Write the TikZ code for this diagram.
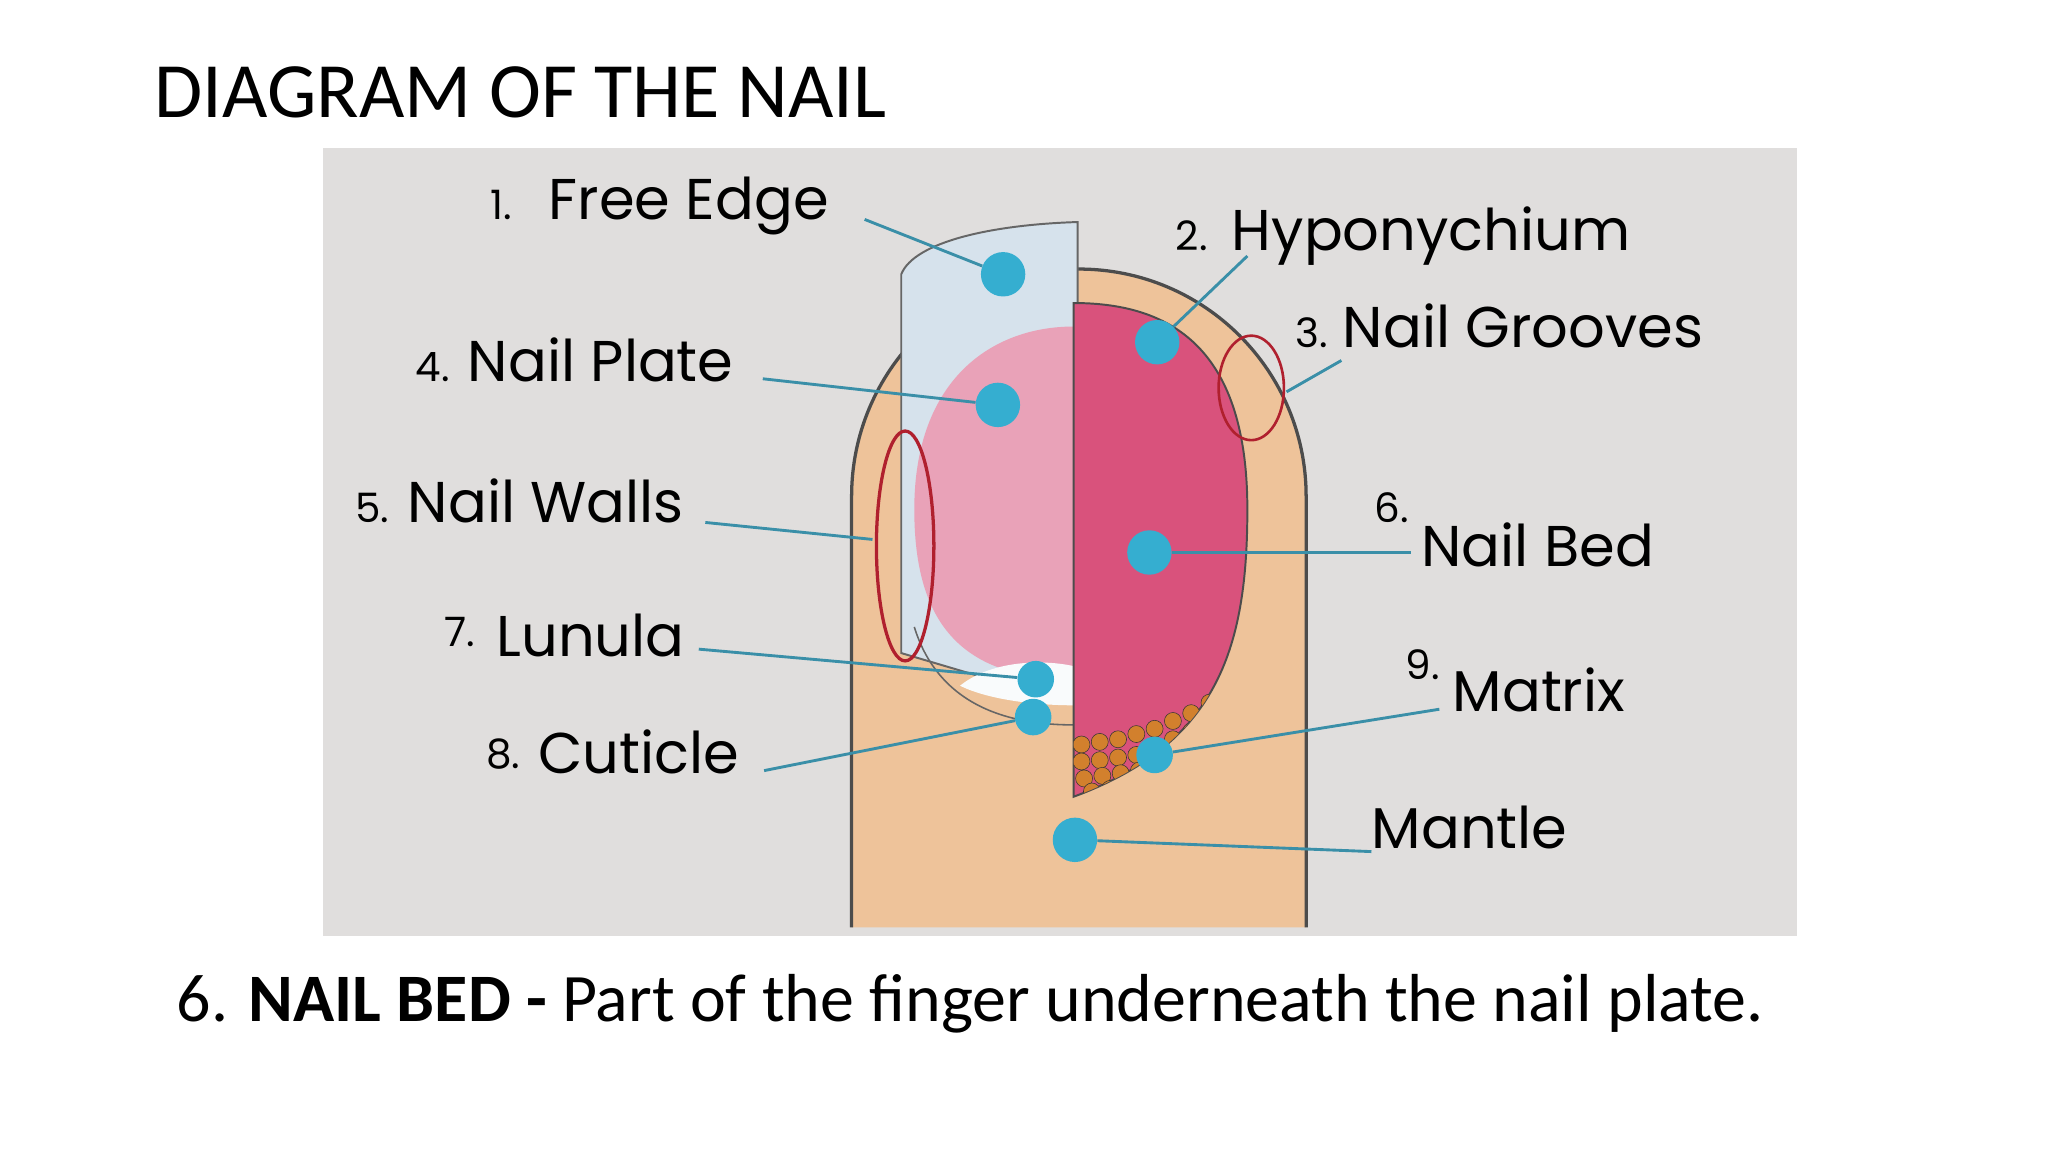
\documentclass[tikz,border=0pt]{standalone}
\usepackage{fontspec}
\setmainfont{Carlito}
\newfontfamily\lbl{Poppins}
\newfontfamily\ttl{Carlito}
\begin{document}
\begin{tikzpicture}[x=1pt,y=-1pt,
 lab/.style={font=\lbl\fontsize{44}{46}\selectfont,inner sep=0pt,anchor=base west},
 num/.style={font=\lbl\fontsize{31}{33}\selectfont,inner sep=0pt,anchor=base west},
 dot/.style={circle,fill=dotblue,minimum size=34pt,inner sep=0pt},
 ln/.style={draw=lineblue,line width=2.2pt}]
\definecolor{panel}{HTML}{E0DEDD}
\definecolor{peach}{HTML}{EEC39A}
\definecolor{darkpink}{HTML}{D9527C}
\definecolor{lightpink}{HTML}{E9A2B8}
\definecolor{freeblue}{HTML}{D6E2EC}
\definecolor{dotblue}{HTML}{35AED0}
\definecolor{lineblue}{HTML}{3A8FA8}
\definecolor{wallred}{HTML}{B0202E}
\useasboundingbox (0,0) rectangle (1568,882);
\fill[white] (0,0) rectangle (1568,882);
\node[font=\ttl\fontsize{60}{62}\selectfont,anchor=base west,inner sep=0pt] (title) at (118,90) {DIAGRAM OF THE NAIL};
\fill[panel] (247,113) rectangle (1376,717);
% finger
\draw[fill=peach,line width=2.5pt,draw=black!70] (652,710) -- (652,380) arc[start angle=180,end angle=360,radius=174] -- (1000,710);
% free edge
\draw[fill=freeblue,draw=black!60,line width=1.5pt] (690,500) -- (690,210) .. controls (700,185) and (760,172) .. (825,170) -- (825,540) -- cycle;
% left half light pink
\fill[lightpink] (822,250) .. controls (760,250) and (700,290) .. (700,390) .. controls (700,470) and (730,520) .. (822,520) -- cycle;
% lunula
\fill[white!85!freeblue] (735,525) .. controls (760,505) and (800,505) .. (822,510) -- (822,540) .. controls (790,540) and (755,535) .. (735,525) -- cycle;
\draw[black!60,line width=1.2pt] (700,480) .. controls (720,545) and (780,555) .. (822,555);
% right half dark pink
\draw[fill=darkpink,draw=black!70,line width=1.5pt] (822,232) .. controls (900,232) and (955,270) .. (955,390) .. controls (955,500) and (930,570) .. (822,610) -- cycle;
% matrix
\begin{scope}
\clip (822,232) .. controls (900,232) and (955,270) .. (955,390) .. controls (955,500) and (930,570) .. (822,610) -- cycle;
\foreach \x/\y in {828/570,842/568,856/566,870/562,884/558,898/552,912/546,926/538,936/528,
  828/583,842/582,856/580,870/578,884/572,898/566,912/560,926/550,936/540,
  830/596,844/594,858/592,872/590,886/588,900/582,914/574,928/562,836/606,850/604,864/602,878/598}
  \draw[fill=brown!70!orange,draw=black!80] (\x,\y) circle (6.5);
\end{scope}
% red ellipses
\draw[wallred,line width=2.5pt] (693,418) ellipse (22 and 88);
\draw[wallred,line width=2pt] (958,297) ellipse (25 and 40);
% dots
\node[dot] (d1) at (768,210) {};
\node[dot] (d4) at (764,310) {};
\node[dot] (d2) at (886,262) {};
\node[dot] (d6) at (880,423) {};
\node[dot,minimum size=28pt] (d7) at (793,520) {};
\node[dot,minimum size=28pt] (d8) at (791,549) {};
\node[dot,minimum size=28pt] (d9) at (884,578) {};
\node[dot] (dm) at (823,643) {};
% labels
\node[num] (n1) at (375,168) {1.};
\node[lab] (l1) at (420,168) {Free Edge};
\node[num] (n2) at (900,192) {2.};
\node[lab] (l2) at (943,192) {Hyponychium};
\node[num] (n3) at (992,266) {3.};
\node[lab] (l3) at (1028,266) {Nail Grooves};
\node[num] (n4) at (318,292) {4.};
\node[lab] (l4) at (358,292) {Nail Plate};
\node[num] (n5) at (272,400) {5.};
\node[lab] (l5) at (312,400) {Nail Walls};
\node[num] (n6) at (1052,400) {6.};
\node[lab] (l6) at (1088,434) {Nail Bed};
\node[num] (n7) at (340,495) {7.};
\node[lab] (l7) at (380,503) {Lunula};
\node[num] (n8) at (372,588) {8.};
\node[lab] (l8) at (412,592) {Cuticle};
\node[num] (n9) at (1076,520) {9.};
\node[lab] (l9) at (1112,545) {Matrix};
\node[lab] (lm) at (1050,650) {Mantle};
\coordinate (e1) at (662,168); \coordinate (e2) at (955,196);
\coordinate (e3) at (1027,276); \coordinate (e4) at (584,290);
\coordinate (e5) at (540,400); \coordinate (e7) at (535,497);
\coordinate (e8) at (585,590); \coordinate (e6) at (1080,423);
\coordinate (e9) at (1102,543); \coordinate (em) at (1050,652);
\draw[ln] (e1) -- (d1); \draw[ln] (e2) -- (d2);
\draw[ln] (e3) -- (985,300); \draw[ln] (e4) -- (d4);
\draw[ln] (e5) -- (668,413); \draw[ln] (e7) -- (d7);
\draw[ln] (e8) -- (d8); \draw[ln] (e6) -- (d6);
\draw[ln] (e9) -- (d9); \draw[ln] (em) -- (dm);
\node[font=\fontsize{52}{54}\selectfont,anchor=base west,inner sep=0pt] (cap) at (135,782) {6. \textbf{NAIL BED -} Part of the finger underneath the nail plate.};
\end{tikzpicture}
\end{document}
